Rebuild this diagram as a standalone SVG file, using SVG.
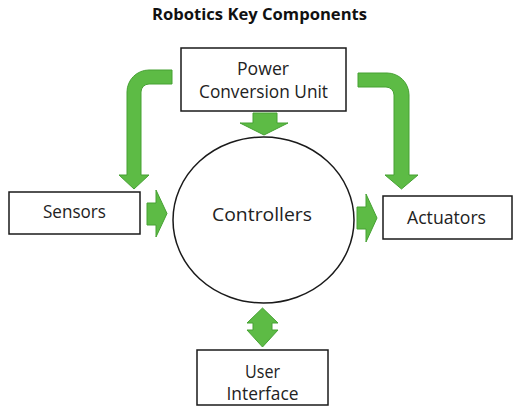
<svg xmlns="http://www.w3.org/2000/svg" width="525" height="420" viewBox="0 0 525 420">
<style>
.box{fill:#fff;stroke:#1a1a1a;stroke-width:1.5}
.lbl{font-family:"Open Sans","Noto Sans",sans-serif;font-size:18px;fill:#222;text-anchor:middle}
.ttl{font-family:"Open Sans","Noto Sans",sans-serif;font-size:16px;font-weight:bold;fill:#111;text-anchor:middle}
.arr{fill:#5dbb45;stroke:#46a133;stroke-width:1}
</style>
<rect width="525" height="420" fill="#fff"/>
<text class="ttl" x="259.5" y="20" textLength="215" lengthAdjust="spacingAndGlyphs">Robotics Key Components</text>
<g id="connectors">
<path class="arr" d="M172,70 L149,70 A22,22 0 0 0 127,92 L127,175 L119,175 L134,189 L149,175 L141,175 L141,92 A8,8 0 0 1 149,84 L172,84 Z"/>
<path class="arr" d="M358,73 L387,73 A22,22 0 0 1 409,95 L409,175 L418,175 L401.5,189 L385,175 L394,175 L394,95 A8,8 0 0 0 386,87 L358,87 Z"/>
<path class="arr" d="M253,113 L277,113 L277,123 L288,123 L264,135 L240,123 L253,123 Z"/>
<path class="arr" d="M147,203 L156,203 L156,190 L167,213.5 L156,237 L156,225 L147,225 Z"/>
<path class="arr" d="M357,207 L366,207 L366,194 L377,218 L366,242 L366,229 L357,229 Z"/>
<path class="arr" d="M262.5,308 L278,323 L272,323 L272,330 L278,330 L262.5,347 L247,330 L253,330 L253,323 L247,323 Z"/>
</g>
<g id="power">
<rect class="box" x="181" y="48" width="165" height="63"/>
<text class="lbl" x="263" y="75" textLength="52" lengthAdjust="spacingAndGlyphs">Power</text>
<text class="lbl" x="263.5" y="98" textLength="129" lengthAdjust="spacingAndGlyphs">Conversion Unit</text>
</g>
<g id="controllers">
<ellipse cx="263.5" cy="220" rx="90.5" ry="83" fill="#fff" stroke="#1a1a1a" stroke-width="1.5"/>
<text class="lbl" x="262" y="221" textLength="100" lengthAdjust="spacingAndGlyphs">Controllers</text>
</g>
<g id="sensors">
<rect class="box" x="9" y="192" width="131" height="42"/>
<text class="lbl" x="74.5" y="218" textLength="63" lengthAdjust="spacingAndGlyphs">Sensors</text>
</g>
<g id="actuators">
<rect class="box" x="383" y="196" width="129" height="43"/>
<text class="lbl" x="446.5" y="224" textLength="79" lengthAdjust="spacingAndGlyphs">Actuators</text>
</g>
<g id="user-interface">
<rect class="box" x="197" y="350" width="131" height="55"/>
<text class="lbl" x="262.5" y="378" textLength="35" lengthAdjust="spacingAndGlyphs">User</text>
<text class="lbl" x="262.5" y="400" textLength="72" lengthAdjust="spacingAndGlyphs">Interface</text>
</g>
</svg>
